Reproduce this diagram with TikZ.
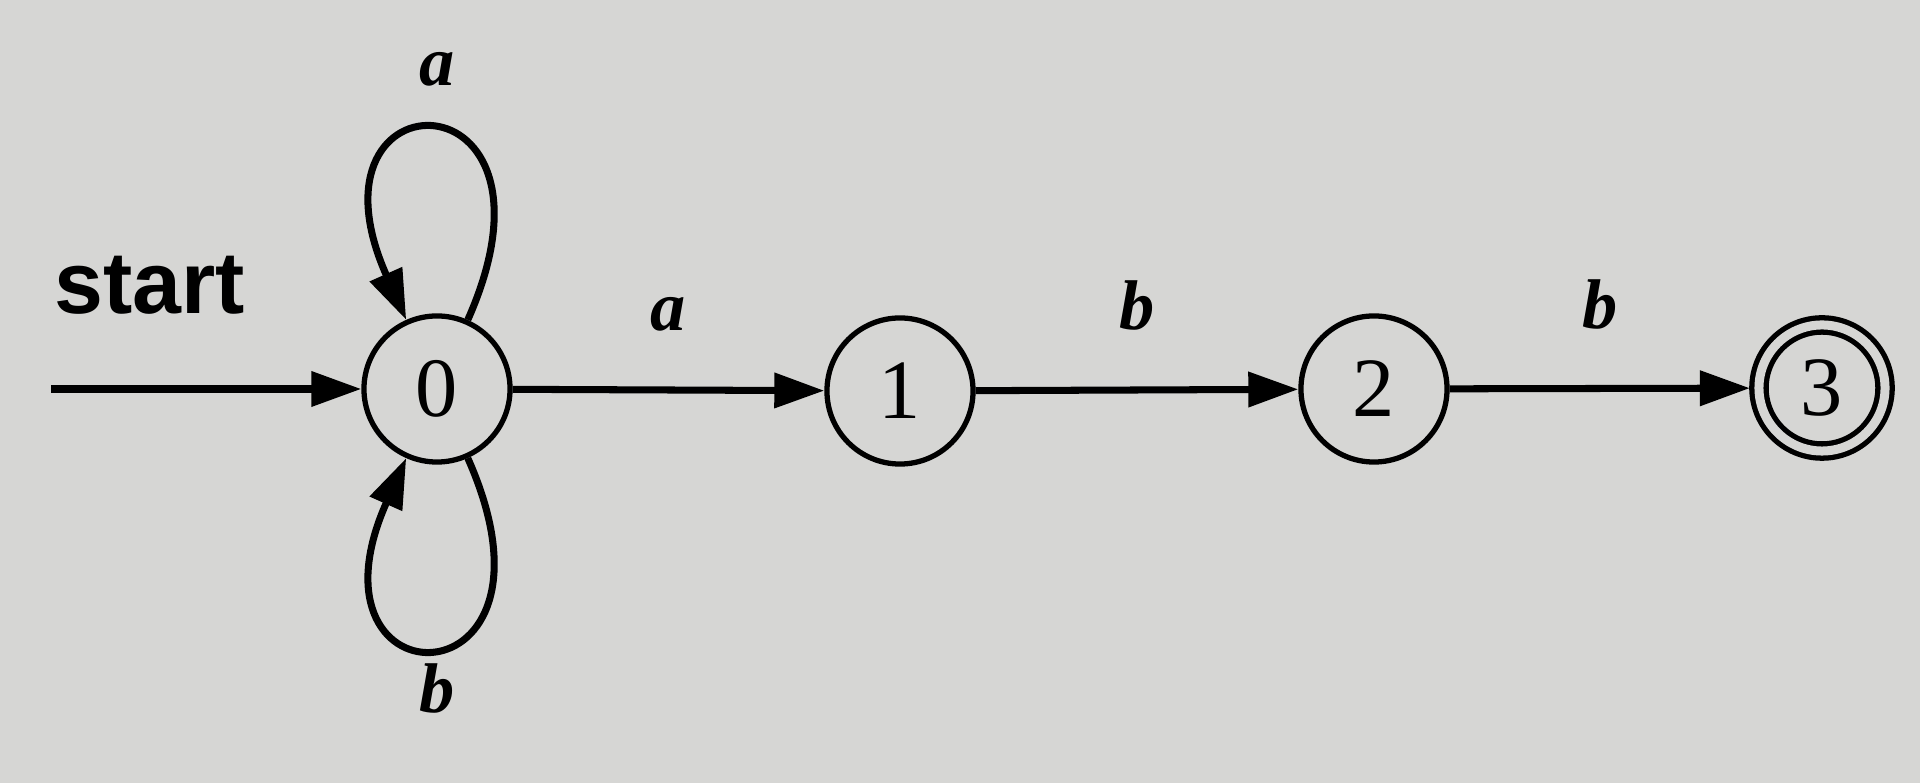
\documentclass[tikz,border=0pt]{standalone}
\usepackage{fontspec}
\setmainfont{Liberation Serif}
\newfontfamily\startfont{Liberation Sans}
\usetikzlibrary{arrows.meta}
\definecolor{screen}{RGB}{214,214,212}
\tikzset{
  state/.style={circle, draw, line width=1.5pt, minimum size=1.46cm, inner sep=0pt,
    font=\fontsize{24}{26}\selectfont},
  final/.style={double=screen, double distance=0.09cm, minimum size=1.26cm, outer sep=0.09cm},
  trans/.style={draw, line width=2pt, -{Triangle[length=5mm,width=3.4mm]}},
  sym/.style={font=\fontsize{20}{22}\selectfont\bfseries\itshape}
}

\begin{document}
\begin{tikzpicture}[x=0.01cm, y=-0.01cm]
\fill[screen] (0,0) rectangle (1920,783);
\useasboundingbox (0,0) rectangle (1920,783);

% states
\node[state] (q0) at (437,389) {0};
\node[state] (q1) at (900,391) {1};
\node[state] (q2) at (1374,389) {2};
\node[state, final] (q3) at (1822,388) {3};

% start arrow
\node[font=\startfont\bfseries\fontsize{25}{27}\selectfont] (start) at (150,285) {start};
\coordinate (in) at (51,389);
\draw[trans] (in) -- (q0);

% transitions
\draw[trans] (q0) -- node[sym, above=0.44cm] {a} (q1);
\draw[trans] (q1) -- node[sym, above=0.44cm] {b} (q2);
\draw[trans] (q2) -- node[sym, above=0.44cm] {b} (q3);

% self loops on 0
\draw[trans] (q0.66) .. controls +(66:2.75cm) and +(114:2.75cm) .. node[sym, above=0.3cm] {a} (q0.114);
\draw[trans] (q0.-66) .. controls +(-66:2.75cm) and +(-114:2.75cm) .. node[sym, below=0.02cm] {b} (q0.-114);
\end{tikzpicture}
\end{document}
